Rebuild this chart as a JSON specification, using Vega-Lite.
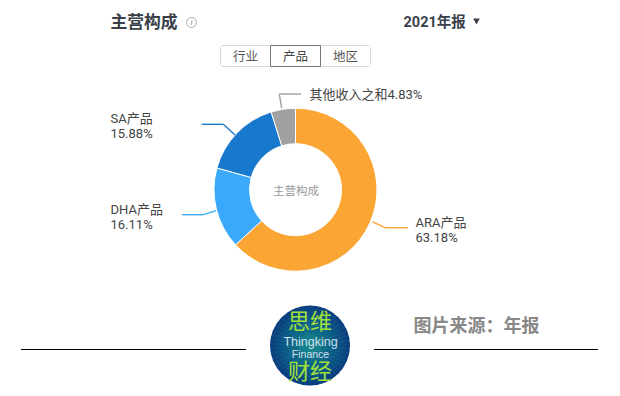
{"$schema":"https://vega.github.io/schema/vega-lite/v6.json","width":620,"height":396,"padding":0,"autosize":{"type":"fit","contains":"padding"},"background":"white","view":{"stroke":null},"config":{"text":{"font":"Roboto, Noto Sans CJK SC"}},"data":{"values":[{}]},"datasets":{"main":[{"product":"ARA产品","share":63.18,"label":"ARA产品\n63.18%"},{"product":"DHA产品","share":16.11,"label":"DHA产品\n16.11%"},{"product":"SA产品","share":15.88,"label":"SA产品\n15.88%"},{"product":"其他收入之和","share":4.83,"label":"其他收入之和4.83%"}]},"layer":[
{"data":{"name":"main"},"mark":{"type":"arc","x":295.5,"y":189.7,"radius":81.5,"radius2":46,"stroke":"white","strokeWidth":1},"encoding":{"theta":{"field":"share","type":"quantitative","stack":true},"order":{"field":"share","sort":"descending"},"color":{"field":"product","type":"nominal","legend":null,"scale":{"domain":["ARA产品","DHA产品","SA产品","其他收入之和"],"range":["#FBA534","#3AA9FB","#1878CE","#A0A0A0"]}}}},
{"mark":{"type":"rule","stroke":"#FBA534","strokeWidth":1.4},"encoding":{"x":{"value":372.3},"y":{"value":221.7},"x2":{"value":385},"y2":{"value":227.7}}},
{"mark":{"type":"rule","stroke":"#FBA534","strokeWidth":1.4},"encoding":{"x":{"value":385},"y":{"value":227.7},"x2":{"value":408},"y2":{"value":227.7}}},
{"mark":{"type":"rule","stroke":"#3AA9FB","strokeWidth":1.4},"encoding":{"x":{"value":216},"y":{"value":210.7},"x2":{"value":203.3},"y2":{"value":214.7}}},
{"mark":{"type":"rule","stroke":"#3AA9FB","strokeWidth":1.4},"encoding":{"x":{"value":203.3},"y":{"value":214.7},"x2":{"value":182},"y2":{"value":214.7}}},
{"mark":{"type":"rule","stroke":"#1878CE","strokeWidth":1.4},"encoding":{"x":{"value":235},"y":{"value":135},"x2":{"value":223.3},"y2":{"value":124.3}}},
{"mark":{"type":"rule","stroke":"#1878CE","strokeWidth":1.4},"encoding":{"x":{"value":223.3},"y":{"value":124.3},"x2":{"value":201.7},"y2":{"value":124.3}}},
{"mark":{"type":"rule","stroke":"#A0A0A0","strokeWidth":1.4},"encoding":{"x":{"value":281.7},"y":{"value":108.3},"x2":{"value":279.3},"y2":{"value":94}}},
{"mark":{"type":"rule","stroke":"#A0A0A0","strokeWidth":1.4},"encoding":{"x":{"value":279.3},"y":{"value":94},"x2":{"value":301},"y2":{"value":94}}},
{"data":{"name":"main"},"transform":[{"filter":"datum.product==='ARA产品'"}],"mark":{"type":"text","x":415.5,"y":222.5,"align":"left","baseline":"middle","lineBreak":"\n","lineHeight":15,"fontSize":13,"fill":"#444"},"encoding":{"text":{"field":"label"}}},
{"data":{"name":"main"},"transform":[{"filter":"datum.product==='DHA产品'"}],"mark":{"type":"text","x":110.5,"y":209.5,"align":"left","baseline":"middle","lineBreak":"\n","lineHeight":15,"fontSize":13,"fill":"#444"},"encoding":{"text":{"field":"label"}}},
{"data":{"name":"main"},"transform":[{"filter":"datum.product==='SA产品'"}],"mark":{"type":"text","x":110.5,"y":119,"align":"left","baseline":"middle","lineBreak":"\n","lineHeight":15,"fontSize":13,"fill":"#444"},"encoding":{"text":{"field":"label"}}},
{"data":{"name":"main"},"transform":[{"filter":"datum.product==='其他收入之和'"}],"mark":{"type":"text","x":309.5,"y":95,"align":"left","baseline":"middle","fontSize":13,"fill":"#444"},"encoding":{"text":{"field":"label"}}},
{"mark":{"type":"text","text":"主营构成","x":296,"y":192,"align":"center","baseline":"middle","fontSize":11.5,"fill":"#999"}},
{"mark":{"type":"text","text":"主营构成","x":110.5,"y":23,"align":"left","baseline":"middle","fontSize":16.8,"fontWeight":"bold","fill":"#3a3f4a"}},
{"mark":{"type":"point","x":191.5,"y":22.5,"size":100,"filled":false,"shape":"circle","stroke":"#aaa","strokeWidth":1,"opacity":1}},
{"mark":{"type":"text","text":"i","x":191.5,"y":23,"align":"center","baseline":"middle","fontSize":8,"fontStyle":"italic","fill":"#888"}},
{"mark":{"type":"text","text":"2021年报","x":403.5,"y":23,"align":"left","baseline":"middle","fontSize":14.5,"fontWeight":"bold","fill":"#3a3f4a"}},
{"mark":{"type":"point","x":476.5,"y":21.5,"size":45,"filled":true,"shape":"triangle-down","fill":"#3a3f4a","opacity":1}},
{"mark":{"type":"rect","x":220.5,"x2":370.5,"y":45.5,"y2":66.5,"fill":"white","stroke":"#d8d8d8","strokeWidth":1,"cornerRadius":2}},
{"mark":{"type":"rect","x":270.5,"x2":320.5,"y":45.5,"y2":66.5,"fill":"white","stroke":"#777","strokeWidth":1}},
{"mark":{"type":"text","text":"行业","x":245.5,"y":57,"align":"center","baseline":"middle","fontSize":12.5,"fill":"#555"}},
{"mark":{"type":"text","text":"产品","x":295.5,"y":57,"align":"center","baseline":"middle","fontSize":12.5,"fill":"#444"}},
{"mark":{"type":"text","text":"地区","x":345.5,"y":57,"align":"center","baseline":"middle","fontSize":12.5,"fill":"#555"}},
{"mark":{"type":"rule","stroke":"#000","strokeWidth":1.2},"encoding":{"x":{"value":21},"x2":{"value":246},"y":{"value":349.5},"y2":{"value":349.5}}},
{"mark":{"type":"rule","stroke":"#000","strokeWidth":1.2},"encoding":{"x":{"value":374},"x2":{"value":598},"y":{"value":349.5},"y2":{"value":349.5}}},
{"mark":{"type":"text","text":"图片来源：年报","x":413.5,"y":327,"align":"left","baseline":"middle","fontSize":18,"fontWeight":"bold","fill":"#888"}},
{"mark":{"type":"arc","x":310,"y":345.5,"radius":40,"theta":0,"theta2":6.2832,"fill":{"gradient":"radial","x1":0.5,"y1":0.5,"r1":0,"x2":0.5,"y2":0.5,"r2":0.5,"stops":[{"offset":0,"color":"#1a8a8a"},{"offset":0.55,"color":"#0f6a8c"},{"offset":1,"color":"#0a3f82"}]}},"encoding":{}},
{"mark":{"type":"point","x":310,"y":345.5,"size":2704,"filled":false,"shape":"circle","stroke":"#0a3570","strokeWidth":28,"strokeDash":[1.2,2],"opacity":0.35}},
{"mark":{"type":"text","text":"思维","x":310,"y":321.5,"align":"center","baseline":"middle","fontSize":22,"fill":"#A4E03A"}},
{"mark":{"type":"text","text":"Thingking","x":310.5,"y":342,"align":"center","baseline":"middle","fontSize":12.5,"fill":"#cfe0ee","font":"Liberation Sans"}},
{"mark":{"type":"text","text":"Finance","x":310.5,"y":355,"align":"center","baseline":"middle","fontSize":10.5,"fill":"#cfe0ee","font":"Liberation Sans"}},
{"mark":{"type":"text","text":"财经","x":310,"y":371.5,"align":"center","baseline":"middle","fontSize":22,"fill":"#A4E03A"}}
]}
